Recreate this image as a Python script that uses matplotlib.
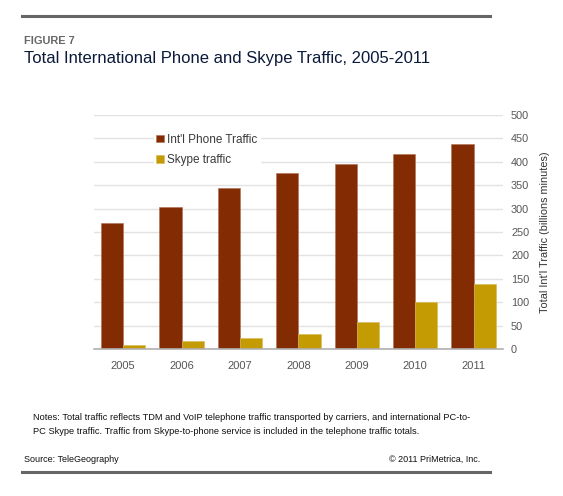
import numpy as np
import matplotlib
matplotlib.use('Agg')
import matplotlib.pyplot as plt

plt.rcParams['font.family'] = ['Liberation Sans', 'DejaVu Sans']

years = ['2005', '2006', '2007', '2008', '2009', '2010', '2011']
phone = [269, 304, 345, 376, 395, 417, 437]
skype = [8, 16, 23, 33, 57, 100, 139]

phone_col = '#832c04'
skype_col = '#c49b03'
grey_txt = '#555555'

fig = plt.figure(figsize=(5.63, 4.96), dpi=100)
ax = fig.add_axes([0.167, 0.2964, 0.726, 0.4718])

x = np.arange(len(years))
w = 0.38
ax.bar(x - w/2, phone, w, color=phone_col, edgecolor='#b07050', linewidth=0.4,
       label="Int'l Phone Traffic", zorder=3)
ax.bar(x + w/2, skype, w, color=skype_col, edgecolor='#d8b850', linewidth=0.4,
       label='Skype traffic', zorder=3)

ax.set_xlim(-0.5, len(years) - 0.5)
ax.set_ylim(0, 500)
ax.set_yticks(np.arange(0, 501, 50))
ax.set_xticks(x)
ax.set_xticklabels(years)
ax.yaxis.tick_right()
ax.yaxis.set_label_position('right')
ax.tick_params(axis='y', length=0, pad=6, labelsize=7.8, labelcolor=grey_txt)
ax.tick_params(axis='x', length=0, pad=9, labelsize=8, labelcolor=grey_txt)
ax.set_ylabel("Total Int'l Traffic (billions minutes)", fontsize=7.8, color='#333333', labelpad=8)

for s in ['top', 'right', 'left']:
    ax.spines[s].set_visible(False)
ax.spines['bottom'].set_color('#b0b0b0')
ax.spines['bottom'].set_linewidth(1.2)
ax.spines['bottom'].set_zorder(4)
ax.grid(axis='y', color='#e2e2e2', linewidth=1.0, zorder=0)
ax.set_axisbelow(True)

leg = ax.legend(loc='upper left', bbox_to_anchor=(0.147, 0.93), frameon=True,
                fontsize=8.5, handlelength=0.6, handleheight=0.6, handletextpad=0.3,
                labelspacing=0.7, borderpad=0.2, borderaxespad=0)
leg.get_frame().set_edgecolor('white')
leg.get_frame().set_facecolor('white')
leg.get_frame().set_alpha(1)
for t in leg.get_texts():
    t.set_color('#3a3a3a')

# page furniture
fig.add_artist(plt.Line2D([22/563, 490/563], [1 - 16/496, 1 - 16/496],
                          color='#666666', linewidth=2.2))
fig.add_artist(plt.Line2D([22/563, 490/563], [1 - 472/496, 1 - 472/496],
                          color='#666666', linewidth=2.2))
fig.text(24/563, 1 - 41/496, 'FIGURE 7', fontsize=7.9, fontweight='bold',
         color='#666666', va='center')
fig.text(24/563, 1 - 59/496, 'Total International Phone and Skype Traffic, 2005-2011',
         fontsize=12, color='#0b1a3a', va='center')
fig.text(33/563, 1 - 418/496,
         'Notes: Total traffic reflects TDM and VoIP telephone traffic transported by carriers, and international PC-to-',
         fontsize=6.65, color='#111111', va='center')
fig.text(33/563, 1 - 432/496,
         'PC Skype traffic. Traffic from Skype-to-phone service is included in the telephone traffic totals.',
         fontsize=6.65, color='#111111', va='center')
fig.text(24/563, 1 - 459/496, 'Source: TeleGeography', fontsize=6.5,
         color='#111111', va='center')
fig.text(480/563, 1 - 459/496, '\u00a9 2011 PriMetrica, Inc.', fontsize=6.5,
         color='#111111', va='center', ha='right')

fig.savefig('out.png', dpi=100)
